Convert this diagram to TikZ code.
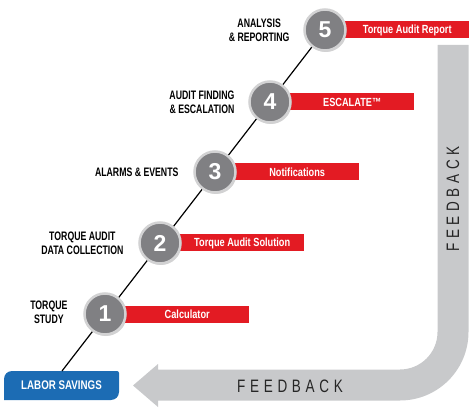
\documentclass[tikz,border=0pt]{standalone}
\usepackage{fontspec}
\setmainfont{Liberation Sans}
\newfontfamily\labfont{Liberation Sans}[FakeStretch=0.71]
\newfontfamily\barfont{Liberation Sans}[FakeStretch=0.78]
\newfontfamily\fbfont{Liberation Sans}[FakeStretch=0.75]
\usetikzlibrary{shadows}
\definecolor{barred}{HTML}{E31B23}
\definecolor{cgray}{HTML}{808083}
\definecolor{ringgray}{HTML}{D2D2D3}
\definecolor{fbgray}{HTML}{C8C9CB}
\definecolor{lblue}{HTML}{1C6CB4}
\newcommand{\fbword}{F\kern4.7pt E\kern4.7pt E\kern4.7pt D\kern4.7pt B\kern4.7pt A\kern4.7pt C\kern4.7pt K}
\tikzset{
  stepcircle/.style={circle, fill=cgray, draw=ringgray, line width=2.5pt, minimum size=41pt, inner sep=0pt,
    text=white, font=\fontsize{23}{23}\selectfont\bfseries,
    drop shadow={opacity=0.35, shadow xshift=1pt, shadow yshift=-1.5pt}},
  redbar/.style={rectangle, fill=barred, minimum width=124pt, minimum height=17pt, inner sep=0pt,
    text=white, font=\barfont\fontsize{11.8}{11.8}\selectfont\bfseries, anchor=west},
  steplabel/.style={align=center, anchor=east, font=\labfont\fontsize{12.3}{14}\selectfont\bfseries},
  fbtext/.style={text=black!85, font=\fbfont\fontsize{18}{18}\selectfont},
}
\begin{document}
\begin{tikzpicture}[x=1pt,y=-1pt]
\useasboundingbox (0,0) rectangle (474,414);
% feedback arrow
\fill[fbgray] (437.5,45) -- (468.5,45) -- (468.5,332) arc[start angle=0,end angle=-90,radius=68.5pt]
  -- (158,400.5) -- (158,407) -- (133,385.5) -- (158,364) -- (158,369.5) -- (400,369.5)
  arc[start angle=-90,end angle=0,radius=37.5pt] -- cycle;
\node[fbtext, rotate=90] (fbv) at (453,199) {\fbword};
\node[fbtext] (fbh) at (290,386) {\fbword};
% step positions
\coordinate (p1) at (105,314);
\coordinate (p2) at (160,243);
\coordinate (p3) at (215,172);
\coordinate (p4) at (270,102);
\coordinate (p5) at (325,30);
% labor savings box
\fill[lblue] (4,400) -- (4,379) arc[start angle=180,end angle=90,radius=8pt] -- (117,371)
  arc[start angle=90,end angle=0,radius=2pt] -- (119,392) arc[start angle=0,end angle=-90,radius=8pt] -- cycle;
\node[font=\barfont\fontsize{12.5}{12.5}\selectfont\bfseries, text=white] (lab) at (61.5,385.5) {LABOR SAVINGS};
\coordinate (ls) at (62,371);
% diagonal line
\draw[line width=1.2pt, black] (ls) -- (p5);
% bars
\node[redbar] (b1) at ([xshift=20pt]p1) {Calculator};
\node[redbar] (b2) at ([xshift=20pt]p2) {Torque Audit Solution};
\node[redbar] (b3) at ([xshift=20pt]p3) {Notifications};
\node[redbar] (b4) at ([xshift=20pt]p4) {ESCALATE™};
\node[redbar] (b5) at ([xshift=20pt]p5) {Torque Audit Report};
% circles
\node[stepcircle] (c1) at (p1) {1};
\node[stepcircle] (c2) at (p2) {2};
\node[stepcircle] (c3) at (p3) {3};
\node[stepcircle] (c4) at (p4) {4};
\node[stepcircle] (c5) at (p5) {5};
% labels
\node[steplabel] (l1) at ([xshift=-34pt,yshift=2pt]p1) {TORQUE\\STUDY};
\node[steplabel] (l2) at ([xshift=-33pt]p2) {TORQUE AUDIT\\DATA COLLECTION};
\node[steplabel] (l3) at ([xshift=-33pt]p3) {ALARMS \& EVENTS};
\node[steplabel] (l4) at ([xshift=-32pt]p4) {AUDIT FINDING\\\& ESCALATION};
\node[steplabel] (l5) at ([xshift=-32pt]p5) {ANALYSIS\\\& REPORTING};
\end{tikzpicture}
\end{document}
